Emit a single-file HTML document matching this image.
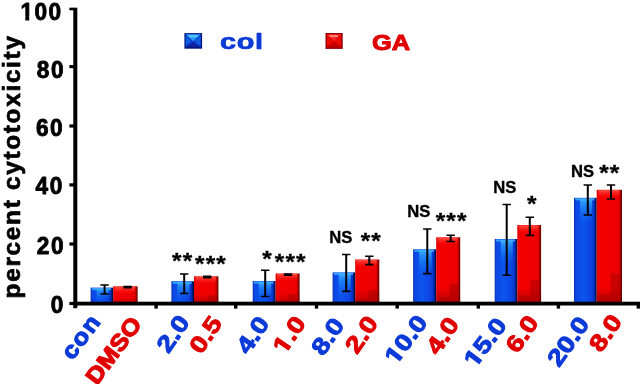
<!DOCTYPE html>
<html><head><meta charset="utf-8"><title>percent cytotoxicity</title>
<style>html,body{margin:0;padding:0;background:#fff;overflow:hidden}svg{display:block}</style></head>
<body>
<svg width="640" height="384" viewBox="0 0 640 384">
<defs>
<linearGradient id="gb" x1="0" x2="1" y1="0" y2="0">
<stop offset="0" stop-color="#0a30ac"/><stop offset="0.08" stop-color="#0846e4"/><stop offset="0.4" stop-color="#0a54ee"/><stop offset="0.7" stop-color="#0846e6"/><stop offset="0.87" stop-color="#0636c8"/><stop offset="0.94" stop-color="#031a78"/><stop offset="1" stop-color="#010830"/>
</linearGradient>
<linearGradient id="gr" x1="0" x2="1" y1="0" y2="0">
<stop offset="0" stop-color="#d80000"/><stop offset="0.07" stop-color="#f40202"/><stop offset="0.85" stop-color="#ee0000"/><stop offset="0.92" stop-color="#c00000"/><stop offset="1" stop-color="#580000"/>
</linearGradient>
<linearGradient id="hb" x1="0" x2="0" y1="0" y2="1">
<stop offset="0" stop-color="#40b4ff" stop-opacity="0.95"/><stop offset="0.25" stop-color="#2a98f6" stop-opacity="0.75"/><stop offset="1" stop-color="#1a80f0" stop-opacity="0"/>
</linearGradient>
<linearGradient id="hr" x1="0" x2="0" y1="0" y2="1">
<stop offset="0" stop-color="#ff5a4a" stop-opacity="0.9"/><stop offset="1" stop-color="#ff2020" stop-opacity="0"/>
</linearGradient>
<linearGradient id="db" x1="0" x2="0" y1="0" y2="1">
<stop offset="0" stop-color="#400000" stop-opacity="0"/><stop offset="1" stop-color="#400000" stop-opacity="0.3"/>
</linearGradient>
<filter id="soft" filterUnits="userSpaceOnUse" x="-20" y="-20" width="680" height="424"><feGaussianBlur stdDeviation="0.45"/></filter>
</defs>
<rect width="640" height="384" fill="#fff"/>
<g filter="url(#soft)">
<rect x="-20" y="-20" width="680" height="424" fill="#fff"/>
<rect x="90.6" y="287.6" width="22.6" height="15.9" fill="url(#gb)"/>
<rect x="91.8" y="288.0" width="19.2" height="2.2" fill="#3aa6f8" opacity="0.9"/>
<rect x="96.6" y="288.6" width="12.1" height="11.9" fill="url(#hb)"/>
<rect x="113.2" y="286.3" width="24.4" height="17.2" fill="url(#gr)"/>
<rect x="114.7" y="286.7" width="20.4" height="6.9" fill="url(#hr)"/>
<rect x="113.2" y="297.5" width="24.4" height="6.0" fill="url(#db)"/>
<rect x="171.4" y="281.2" width="22.6" height="22.3" fill="url(#gb)"/>
<rect x="172.6" y="281.6" width="19.2" height="2.2" fill="#3aa6f8" opacity="0.9"/>
<rect x="177.4" y="282.2" width="12.1" height="16.7" fill="url(#hb)"/>
<rect x="194" y="276.3" width="24.4" height="27.2" fill="url(#gr)"/>
<rect x="195.5" y="276.7" width="20.4" height="7.0" fill="url(#hr)"/>
<rect x="194" y="294.0" width="24.4" height="9.5" fill="url(#db)"/>
<path d="M195.2 303.5V300.8H207.4V295.3H216.9V303.5Z" fill="#a00000" opacity="0.45"/>
<rect x="252.7" y="281.1" width="22.9" height="22.4" fill="url(#gb)"/>
<rect x="253.9" y="281.5" width="19.5" height="2.2" fill="#3aa6f8" opacity="0.9"/>
<rect x="258.7" y="282.1" width="12.4" height="16.8" fill="url(#hb)"/>
<rect x="275.6" y="273.5" width="24.0" height="30.0" fill="url(#gr)"/>
<rect x="277.1" y="273.9" width="20.0" height="7.0" fill="url(#hr)"/>
<rect x="275.6" y="293.0" width="24.0" height="10.5" fill="url(#db)"/>
<path d="M276.8 303.5V300.5H288.8V294.5H298.1V303.5Z" fill="#a00000" opacity="0.45"/>
<rect x="332.6" y="272.4" width="22.6" height="31.1" fill="url(#gb)"/>
<rect x="333.8" y="272.8" width="19.2" height="2.2" fill="#3aa6f8" opacity="0.9"/>
<rect x="338.6" y="273.4" width="12.1" height="23.3" fill="url(#hb)"/>
<rect x="355.2" y="259.5" width="24.1" height="44.0" fill="url(#gr)"/>
<rect x="356.7" y="259.9" width="20.1" height="7.0" fill="url(#hr)"/>
<rect x="355.2" y="288.1" width="24.1" height="15.4" fill="url(#db)"/>
<path d="M356.4 303.5V299.1H368.5V290.3H377.8V303.5Z" fill="#a00000" opacity="0.45"/>
<rect x="413.1" y="249.3" width="23.1" height="54.2" fill="url(#gb)"/>
<rect x="414.3" y="249.7" width="19.7" height="2.2" fill="#3aa6f8" opacity="0.9"/>
<rect x="419.1" y="250.3" width="12.6" height="24.0" fill="url(#hb)"/>
<rect x="436.2" y="237.3" width="24.0" height="66.2" fill="url(#gr)"/>
<rect x="437.7" y="237.7" width="20.0" height="7.0" fill="url(#hr)"/>
<rect x="436.2" y="287.5" width="24.0" height="16.0" fill="url(#db)"/>
<path d="M437.4 303.5V296.9H449.4V283.6H458.7V303.5Z" fill="#a00000" opacity="0.45"/>
<rect x="494.7" y="239" width="22.6" height="64.5" fill="url(#gb)"/>
<rect x="495.9" y="239.4" width="19.2" height="2.2" fill="#3aa6f8" opacity="0.9"/>
<rect x="500.7" y="240.0" width="12.1" height="24.0" fill="url(#hb)"/>
<rect x="517.3" y="225" width="23.8" height="78.5" fill="url(#gr)"/>
<rect x="518.8" y="225.4" width="19.8" height="7.0" fill="url(#hr)"/>
<rect x="517.3" y="287.5" width="23.8" height="16.0" fill="url(#db)"/>
<path d="M518.5 303.5V295.6H530.4V279.9H539.6V303.5Z" fill="#a00000" opacity="0.45"/>
<rect x="574" y="197.8" width="22.7" height="105.7" fill="url(#gb)"/>
<rect x="575.2" y="198.2" width="19.3" height="2.2" fill="#3aa6f8" opacity="0.9"/>
<rect x="580.0" y="198.8" width="12.2" height="24.0" fill="url(#hb)"/>
<rect x="596.7" y="189.8" width="25.3" height="113.7" fill="url(#gr)"/>
<rect x="598.2" y="190.2" width="21.3" height="7.0" fill="url(#hr)"/>
<rect x="596.7" y="287.5" width="25.3" height="16.0" fill="url(#db)"/>
<path d="M597.9 303.5V294.5H610.6V273.5H620.5V303.5Z" fill="#a00000" opacity="0.45"/>
<path d="M100.39999999999999 285H108.8M100.39999999999999 294H108.8" stroke="#000" stroke-width="1.6" fill="none"/>
<path d="M104.6 285V294" stroke="#000" stroke-width="2" fill="none"/>
<path d="M123.39999999999999 286.5H131.79999999999998M123.39999999999999 287.6H131.79999999999998" stroke="#000" stroke-width="1.6" fill="none"/>
<path d="M127.6 286.5V287.6" stroke="#000" stroke-width="2" fill="none"/>
<path d="M180.0 274H188.39999999999998M180.0 293.5H188.39999999999998" stroke="#000" stroke-width="1.6" fill="none"/>
<path d="M184.2 274V293.5" stroke="#000" stroke-width="2" fill="none"/>
<path d="M203.0 276.4H211.39999999999998M203.0 277.6H211.39999999999998" stroke="#000" stroke-width="1.6" fill="none"/>
<path d="M207.2 276.4V277.6" stroke="#000" stroke-width="2" fill="none"/>
<path d="M261.0 270.3H269.4M261.0 296.5H269.4" stroke="#000" stroke-width="1.6" fill="none"/>
<path d="M265.2 270.3V296.5" stroke="#000" stroke-width="2" fill="none"/>
<path d="M283.8 274H292.2M283.8 275.2H292.2" stroke="#000" stroke-width="1.6" fill="none"/>
<path d="M288 274V275.2" stroke="#000" stroke-width="2" fill="none"/>
<path d="M342.0 254.5H350.4M342.0 291.4H350.4" stroke="#000" stroke-width="1.6" fill="none"/>
<path d="M346.2 254.5V291.4" stroke="#000" stroke-width="2" fill="none"/>
<path d="M365.1 256.3H373.5M365.1 264.6H373.5" stroke="#000" stroke-width="1.6" fill="none"/>
<path d="M369.3 256.3V264.6" stroke="#000" stroke-width="2" fill="none"/>
<path d="M423.1 229H431.5M423.1 273.6H431.5" stroke="#000" stroke-width="1.6" fill="none"/>
<path d="M427.3 229V273.6" stroke="#000" stroke-width="2" fill="none"/>
<path d="M446.5 235.3H454.9M446.5 241.5H454.9" stroke="#000" stroke-width="1.6" fill="none"/>
<path d="M450.7 235.3V241.5" stroke="#000" stroke-width="2" fill="none"/>
<path d="M502.5 204.5H510.9M502.5 275.2H510.9" stroke="#000" stroke-width="1.6" fill="none"/>
<path d="M506.7 204.5V275.2" stroke="#000" stroke-width="2" fill="none"/>
<path d="M525.5999999999999 217.2H534.0M525.5999999999999 235.4H534.0" stroke="#000" stroke-width="1.6" fill="none"/>
<path d="M529.8 217.2V235.4" stroke="#000" stroke-width="2" fill="none"/>
<path d="M583.5999999999999 185H592.0M583.5999999999999 215H592.0" stroke="#000" stroke-width="1.6" fill="none"/>
<path d="M587.8 185V215" stroke="#000" stroke-width="2" fill="none"/>
<path d="M606.8 185H615.2M606.8 199H615.2" stroke="#000" stroke-width="1.6" fill="none"/>
<path d="M611 185V199" stroke="#000" stroke-width="2" fill="none"/>
<rect x="73.3" y="7.7" width="4" height="300.5" fill="#000"/>
<rect x="73.3" y="301.7" width="576.7" height="3.8" fill="#000"/>
<rect x="69.4" y="7.7" width="5" height="2.6" fill="#000"/>
<rect x="69.4" y="65.0" width="5" height="3.2" fill="#000"/>
<rect x="69.4" y="124.4" width="5" height="3.2" fill="#000"/>
<rect x="69.4" y="183.3" width="5" height="3.2" fill="#000"/>
<rect x="69.4" y="242.4" width="5" height="3.2" fill="#000"/>
<rect x="69.4" y="301.9" width="5" height="3.2" fill="#000"/>
<rect x="154.4" y="303" width="3.4" height="5.6" fill="#000"/>
<rect x="234.0" y="303" width="3.4" height="5.6" fill="#000"/>
<rect x="314.8" y="303" width="3.4" height="5.6" fill="#000"/>
<rect x="395.5" y="303" width="3.4" height="5.6" fill="#000"/>
<rect x="476.6" y="303" width="3.4" height="5.6" fill="#000"/>
<rect x="556.7" y="303" width="3.4" height="5.6" fill="#000"/>
<rect x="636.6" y="303" width="3.4" height="5.6" fill="#000"/>
<g font-family="Liberation Sans, sans-serif" font-weight="bold">
<g transform="translate(20.4 19.5) scale(0.94 1)"><text font-size="24.1" fill="#000" stroke="#000" stroke-width="0.9" stroke-linejoin="round" letter-spacing="1.6">100</text><path d="M-0.37 -3.50H5.16V1.65H-0.37ZM9.42 -3.50H14.46V1.65H9.42Z" fill="#fff"/></g>
<text transform="translate(36.8 78.0) scale(0.94 1)" font-size="24.1" fill="#000" stroke="#000" stroke-width="0.9" stroke-linejoin="round" letter-spacing="1.6">80</text>
<text transform="translate(36.0 135.5) scale(0.94 1)" font-size="24.1" fill="#000" stroke="#000" stroke-width="0.9" stroke-linejoin="round" letter-spacing="1.6">60</text>
<text transform="translate(35.6 194.1) scale(0.94 1)" font-size="24.1" fill="#000" stroke="#000" stroke-width="0.9" stroke-linejoin="round" letter-spacing="1.6">40</text>
<text transform="translate(36.8 254.0) scale(0.94 1)" font-size="24.1" fill="#000" stroke="#000" stroke-width="0.9" stroke-linejoin="round" letter-spacing="1.6">20</text>
<text transform="translate(50.8 312.8) scale(0.94 1)" font-size="24.1" fill="#000" stroke="#000" stroke-width="0.9" stroke-linejoin="round" letter-spacing="1.6">0</text>
<text transform="translate(19.6 298.4) rotate(-90)" font-size="24.4" fill="#000" stroke="#000" stroke-width="0.7" stroke-linejoin="round" letter-spacing="1.68">percent cytotoxicity</text>
<text transform="translate(220.0 48.6) scale(1.28 1)" font-size="22.6" fill="#0a3ad8" stroke="#0a3ad8" stroke-width="0.7" stroke-linejoin="round" letter-spacing="0.5">col</text>
<text transform="translate(372.0 49.6) scale(1.13 1)" font-size="22.5" fill="#e00000" stroke="#e00000" stroke-width="1.0" stroke-linejoin="round" >GA</text>
<text transform="translate(72.5 361.0) rotate(-53.5) scale(1.1 1)" font-size="23" fill="#0a3ad8" stroke="#0a3ad8" stroke-width="1.2" stroke-linejoin="round" letter-spacing="1.4">con</text>
<text transform="translate(97.0 386.0) rotate(-53.5) scale(1.1 1)" font-size="23" fill="#e00000" stroke="#e00000" stroke-width="1.2" stroke-linejoin="round" letter-spacing="0.3">DMSO</text>
<text transform="translate(168.5 354.2) rotate(-55.5) scale(1.19 1)" font-size="23.4" fill="#0a3ad8" stroke="#0a3ad8" stroke-width="1.0" stroke-linejoin="round" >2.0</text>
<text transform="translate(201.2 355.2) rotate(-55.5) scale(1.19 1)" font-size="23.4" fill="#e00000" stroke="#e00000" stroke-width="1.0" stroke-linejoin="round" >0.5</text>
<text transform="translate(248.3 355.5) rotate(-55.5) scale(1.19 1)" font-size="23.4" fill="#0a3ad8" stroke="#0a3ad8" stroke-width="1.0" stroke-linejoin="round" >4.0</text>
<g transform="translate(284.8 355.2) rotate(-55.5) scale(1.19 1)"><text font-size="23.4" fill="#e00000" stroke="#e00000" stroke-width="1.0" stroke-linejoin="round" >1.0</text><path d="M-0.43 -3.47H4.95V1.70H-0.43ZM9.21 -3.47H14.04V1.70H9.21Z" fill="#fff"/></g>
<text transform="translate(323.3 356.9) rotate(-55.5) scale(1.19 1)" font-size="23.4" fill="#0a3ad8" stroke="#0a3ad8" stroke-width="1.0" stroke-linejoin="round" >8.0</text>
<text transform="translate(357.0 354.9) rotate(-55.5) scale(1.19 1)" font-size="23.4" fill="#e00000" stroke="#e00000" stroke-width="1.0" stroke-linejoin="round" >2.0</text>
<g transform="translate(395.9 365.8) rotate(-53) scale(1.19 1)"><text font-size="23.4" fill="#0a3ad8" stroke="#0a3ad8" stroke-width="1.0" stroke-linejoin="round" >10.0</text><path d="M-0.43 -3.47H4.95V1.70H-0.43ZM9.21 -3.47H14.04V1.70H9.21Z" fill="#fff"/></g>
<text transform="translate(438.0 356.2) rotate(-55.5) scale(1.19 1)" font-size="23.4" fill="#e00000" stroke="#e00000" stroke-width="1.0" stroke-linejoin="round" >4.0</text>
<g transform="translate(475.2 368.7) rotate(-53) scale(1.19 1)"><text font-size="23.4" fill="#0a3ad8" stroke="#0a3ad8" stroke-width="1.0" stroke-linejoin="round" >15.0</text><path d="M-0.43 -3.47H4.95V1.70H-0.43ZM9.21 -3.47H14.04V1.70H9.21Z" fill="#fff"/></g>
<text transform="translate(517.6 354.4) rotate(-55.5) scale(1.19 1)" font-size="23.4" fill="#e00000" stroke="#e00000" stroke-width="1.0" stroke-linejoin="round" >6.0</text>
<text transform="translate(558.9 368.0) rotate(-54.5) scale(1.19 1)" font-size="23.4" fill="#0a3ad8" stroke="#0a3ad8" stroke-width="1.0" stroke-linejoin="round" >20.0</text>
<text transform="translate(601.0 353.4) rotate(-55.5) scale(1.19 1)" font-size="23.4" fill="#e00000" stroke="#e00000" stroke-width="1.0" stroke-linejoin="round" >8.0</text>
<text transform="translate(172.0 267.6) scale(1.06 0.93)" font-size="23" fill="#000" stroke="#000" stroke-width="0.3" stroke-linejoin="round" letter-spacing="1.1">**</text>
<text transform="translate(195.0 271.0) scale(1.06 0.93)" font-size="23" fill="#000" stroke="#000" stroke-width="0.3" stroke-linejoin="round" letter-spacing="1.1">***</text>
<text transform="translate(262.3 266.0) scale(1.06 0.93)" font-size="23" fill="#000" stroke="#000" stroke-width="0.3" stroke-linejoin="round" letter-spacing="1.1">*</text>
<text transform="translate(274.8 269.1) scale(1.06 0.93)" font-size="23" fill="#000" stroke="#000" stroke-width="0.3" stroke-linejoin="round" letter-spacing="1.1">***</text>
<text transform="translate(329.2 243.2) scale(1.045 1)" font-size="15.9" fill="#000" stroke="#000" stroke-width="0.35" stroke-linejoin="round" >NS</text>
<text transform="translate(360.7 247.7) scale(1.06 0.93)" font-size="23" fill="#000" stroke="#000" stroke-width="0.3" stroke-linejoin="round" letter-spacing="1.1">**</text>
<text transform="translate(407.2 217.1) scale(1.045 1)" font-size="15.9" fill="#000" stroke="#000" stroke-width="0.35" stroke-linejoin="round" >NS</text>
<text transform="translate(435.7 228.4) scale(1.06 0.93)" font-size="23" fill="#000" stroke="#000" stroke-width="0.3" stroke-linejoin="round" letter-spacing="1.1">***</text>
<text transform="translate(493.2 192.9) scale(1.045 1)" font-size="15.9" fill="#000" stroke="#000" stroke-width="0.35" stroke-linejoin="round" >NS</text>
<text transform="translate(527.1 210.5) scale(1.06 0.93)" font-size="23" fill="#000" stroke="#000" stroke-width="0.3" stroke-linejoin="round" letter-spacing="1.1">*</text>
<text transform="translate(571.1 177.1) scale(1.045 1)" font-size="15.9" fill="#000" stroke="#000" stroke-width="0.35" stroke-linejoin="round" >NS</text>
<text transform="translate(599.2 180.1) scale(1.06 0.93)" font-size="23" fill="#000" stroke="#000" stroke-width="0.3" stroke-linejoin="round" letter-spacing="1.1">**</text>
</g>
<rect x="184.4" y="33.1" width="17.7" height="15.6" fill="#04167c"/>
<rect x="185.7" y="34.3" width="14.9" height="12.8" fill="#0838d0"/>
<path d="M185.7 34.3H200.6L193.2 41.2Z" fill="#2c9cf0"/>
<path d="M185.7 35.8L191.7 41.2L185.7 46.1Z" fill="#0e5ce2"/>
<path d="M200.6 35.8L194.7 41.2L200.6 46.1Z" fill="#0e5ce2"/>
<path d="M185.7 47.1H200.6L193.2 42.2Z" fill="#08249c"/>
<rect x="325.5" y="33.0" width="17.2" height="15.9" fill="#8c0006"/>
<rect x="326.8" y="34.2" width="14.4" height="13.1" fill="#e00000"/>
<path d="M326.8 34.2H341.2L334.0 41.2Z" fill="#f62c24"/>
<path d="M326.8 35.7L332.5 41.2L326.8 46.3Z" fill="#ea0a06"/>
<path d="M341.2 35.7L335.5 41.2L341.2 46.3Z" fill="#ea0a06"/>
<path d="M326.8 47.3H341.2L334.0 42.2Z" fill="#c40000"/>
<rect x="329.5" y="35.3" width="8.5" height="1.6" fill="#ffb0a8" opacity="0.75"/>
<rect x="188.5" y="35.3" width="9.5" height="1.8" fill="#7fe0ff" opacity="0.6"/>
</g>
</svg>
</body></html>
